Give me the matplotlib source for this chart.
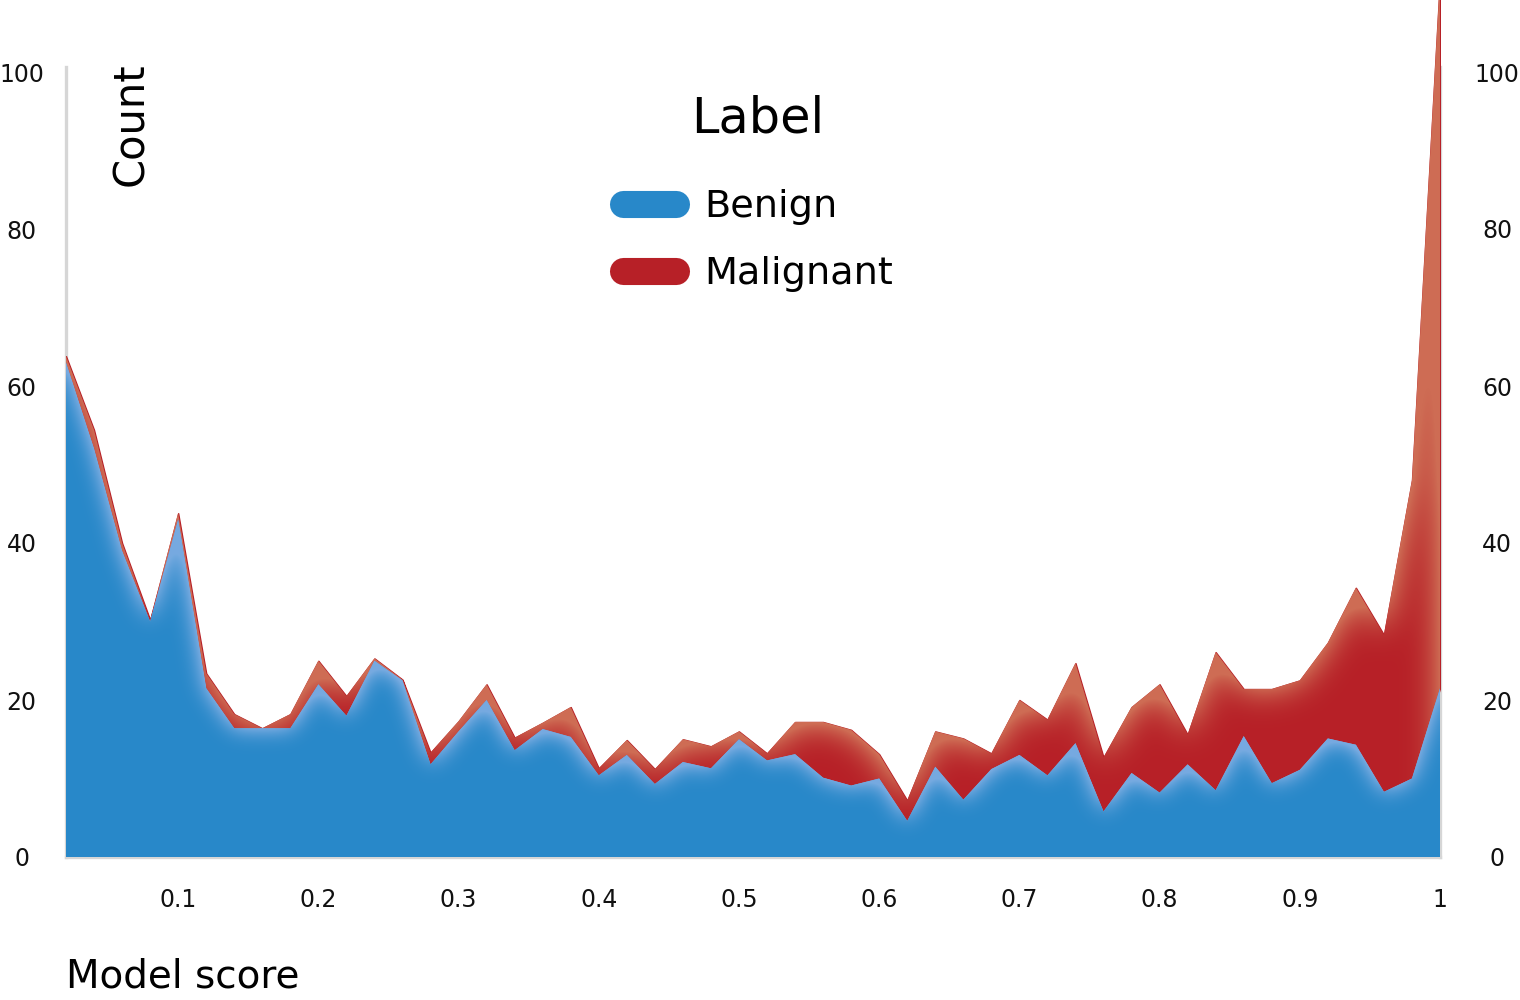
import numpy as np
import matplotlib
matplotlib.use("Agg")
import matplotlib.pyplot as plt
from matplotlib.lines import Line2D

# ---------------- data ----------------
score = [0.02, 0.04, 0.06, 0.08, 0.10, 0.12, 0.14, 0.16, 0.18, 0.20,
         0.22, 0.24, 0.26, 0.28, 0.30, 0.32, 0.34, 0.36, 0.38, 0.40,
         0.42, 0.44, 0.46, 0.48, 0.50, 0.52, 0.54, 0.56, 0.58, 0.60,
         0.62, 0.64, 0.66, 0.68, 0.70, 0.72, 0.74, 0.76, 0.78, 0.80,
         0.82, 0.84, 0.86, 0.88, 0.90, 0.92, 0.94, 0.96, 0.98, 1.00]

benign = [63, 52, 39, 30, 43, 21.5, 16.4, 16.4, 16.4, 22,
          18, 25, 22.5, 11.8, 16, 20, 13.6, 16.3, 15.3, 10.4,
          13, 9.3, 12.1, 11.3, 15, 12.3, 13.1, 10.1, 9.1, 10,
          4.6, 11.5, 7.3, 11.2, 13, 10.4, 14.5, 5.8, 10.7, 8.2,
          11.8, 8.5, 15.4, 9.4, 11.1, 15.1, 14.3, 8.3, 10, 21.5]

malignant = [0.8, 2.4, 1.0, 0.2, 0.8, 1.9, 1.8, 0.0, 1.8, 3.0,
             2.5, 0.3, 0.1, 1.5, 1.3, 2.0, 1.6, 0.8, 3.8, 0.9,
             1.9, 1.9, 2.9, 2.8, 1.0, 0.9, 4.1, 7.1, 7.1, 3.1,
             2.6, 4.5, 7.8, 2.0, 7.0, 7.1, 10.2, 6.9, 8.4, 13.8,
             3.8, 17.6, 6.0, 12.0, 11.4, 12.2, 20.0, 20.0, 38.0, 90.5]

series_names = ["Benign", "Malignant"]
legend_title = "Label"
x_label = "Model score"
y_label = "Count"
x_ticks = [0.1, 0.2, 0.3, 0.4, 0.5, 0.6, 0.7, 0.8, 0.9, 1.0]
x_tick_labels = ["0.1", "0.2", "0.3", "0.4", "0.5", "0.6", "0.7", "0.8", "0.9", "1"]
y_ticks = [0, 20, 40, 60, 80, 100]

# ---------------- style ----------------
BLUE = np.array([40, 136, 201]) / 255
BLUE_LIGHT = np.array([118, 170, 224]) / 255
RED = np.array([183, 32, 39]) / 255
RED_LIGHT = np.array([206, 108, 84]) / 255
SPINE = "#d6d6d6"

plt.rcParams["font.family"] = ["DejaVu Sans"]

W, H = 1520, 1000
fig = plt.figure(figsize=(W / 100, H / 100), dpi=100)
L, R, B, T = 66, 1440, 143, 1000
ax = fig.add_axes([L / W, B / H, (R - L) / W, (T - B) / H])

xmin, xmax = score[0], score[-1]
ymax = 857 / 7.85
ax.set_xlim(xmin, xmax)
ax.set_ylim(0, ymax)

x = np.array(score)
b = np.array(benign)
tot = b + np.array(malignant)


def blur(a, s, right_zero=False):
    r = int(3 * s)
    k = np.exp(-0.5 * (np.arange(-r, r + 1) / s) ** 2)
    k /= k.sum()
    p = np.pad(a, ((r, r), (0, 0)), mode="edge")
    right = np.zeros((p.shape[0], r)) if right_zero else np.repeat(p[:, -1:], r, 1)
    p = np.concatenate([np.repeat(p[:, :1], r, 1), p, right], axis=1)
    tmp = np.zeros((a.shape[0], p.shape[1]))
    for i, w in enumerate(k):
        tmp += w * p[i:i + a.shape[0], :]
    out = np.zeros(a.shape)
    for i, w in enumerate(k):
        out += w * tmp[:, i:i + a.shape[1]]
    return out


nx, ny = R - L, T - B
gx = xmin + (np.arange(nx) + 0.5) / nx * (xmax - xmin)
gy = (np.arange(ny) + 0.5) / ny * ymax
bi = np.interp(gx, x, b)
ti = np.interp(gx, x, tot)
mask_b = (gy[:, None] <= bi[None, :]).astype(float)
mask_t = (gy[:, None] <= ti[None, :]).astype(float)


def shade(mask, sigma, base, light, right_zero=False):
    m = blur(mask, sigma, right_zero)
    t = np.clip(2 * m - 1, 0, 1) ** 0.9
    return light[None, None, :] * (1 - t[..., None]) + base[None, None, :] * t[..., None]


img_r = shade(mask_t, 17, RED, RED_LIGHT, right_zero=True)
img_b = shade(mask_b, 11, BLUE, BLUE_LIGHT)

poly_r = ax.fill_between(x, b, tot, facecolor=RED, edgecolor=RED, lw=1.0, zorder=1)
im_r = ax.imshow(img_r, extent=(xmin, xmax, 0, ymax), origin="lower", aspect="auto",
                 interpolation="bilinear", zorder=1.1)
im_r.set_clip_path(poly_r.get_paths()[0], transform=ax.transData)

poly_b = ax.fill_between(x, 0, b, facecolor=BLUE_LIGHT, lw=0, zorder=1.2)
im_b = ax.imshow(img_b, extent=(xmin, xmax, 0, ymax), origin="lower", aspect="auto",
                 interpolation="bilinear", zorder=1.3)
im_b.set_clip_path(poly_b.get_paths()[0], transform=ax.transData)

ax.set_xlim(xmin, xmax)
ax.set_ylim(0, ymax)

# spines
ax.spines["top"].set_visible(False)
for s in ["left", "right", "bottom"]:
    ax.spines[s].set_color(SPINE)
    ax.spines[s].set_linewidth(2.4)
    ax.spines[s].set_zorder(0.5)
ax.spines["left"].set_bounds(0, 100.6)
ax.spines["right"].set_bounds(0, 100.6)

# ticks
ax.set_xticks(x_ticks)
ax.set_xticklabels(x_tick_labels)
ax.set_yticks(y_ticks)
ax.tick_params(axis="x", length=0, labelsize=17, pad=22, colors="#111111")
ax.tick_params(axis="y", length=0, labelsize=17, pad=32, colors="#111111")
for lab in ax.get_yticklabels():
    lab.set_horizontalalignment("center")

ax2 = ax.twinx()
ax2.set_ylim(0, ymax)
ax2.set_yticks(y_ticks)
ax2.tick_params(axis="y", length=0, labelsize=17, pad=41, colors="#111111")
for lab in ax2.get_yticklabels():
    lab.set_horizontalalignment("center")
for s in ax2.spines.values():
    s.set_visible(False)

# axis titles
ax.set_xlabel(x_label, fontsize=28, loc="left")
ax.xaxis.set_label_coords(0, -0.117)
ax.set_ylabel(y_label, fontsize=30)
ax.yaxis.set_label_coords(0.0625, 0.855)

# legend
handles = [Line2D([0], [0], color=BLUE, lw=19.5, solid_capstyle="round"),
           Line2D([0], [0], color=RED, lw=19.5, solid_capstyle="round")]
fs = 27.5
leg = fig.legend(handles, series_names, title=legend_title, loc="upper center",
                 bbox_to_anchor=(758 / W, 0.925), frameon=False, fontsize=fs,
                 title_fontsize=35.5, handlelength=53 / (fs * 100 / 72),
                 handletextpad=0.75, labelspacing=0.80, borderpad=0)
leg._legend_box.sep = 34

fig.savefig("out.png", dpi=100)
